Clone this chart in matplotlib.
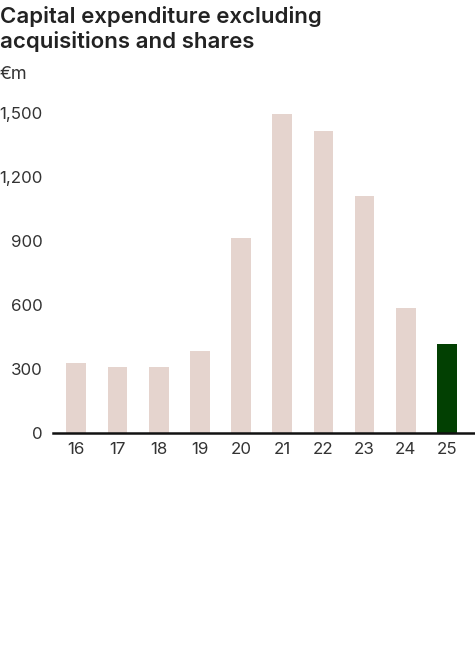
import matplotlib.pyplot as plt

plt.rcParams["font.family"] = ["Inter", "DejaVu Sans"]

years = ["16", "17", "18", "19", "20", "21", "22", "23", "24", "25"]
capex = [328, 308, 308, 383, 912, 1492, 1416, 1108, 586, 414]
y_ticks = [0, 300, 600, 900, 1200, 1500]
y_labels = ["0", "300", "600", "900", "1,200", "1,500"]
title_lines = ["Capital expenditure excluding", "acquisitions and shares"]

PINK = "#e5d4ce"
GREEN = "#024002"
TEXT = "#222222"

fig = plt.figure(figsize=(4.75, 6.49), dpi=100)
ax = fig.add_axes([0.112, 0.3333, 0.888, 0.4995])

colors = [PINK] * (len(years) - 1) + [GREEN]
x = list(range(len(years)))
ax.bar(x, capex, width=0.48, color=colors, zorder=2)

ax.set_xlim(-0.56, len(years) - 1 + 0.68)
ax.set_ylim(0, 1520)
ax.set_xticks(x)
ax.set_xticklabels(years)
ax.set_yticks(y_ticks)
ax.set_yticklabels(y_labels)
ax.tick_params(axis="both", length=0, labelsize=12.2, colors="#333333")
ax.tick_params(axis="y", pad=7.5)
ax.tick_params(axis="x", pad=7)

for side in ["top", "right", "left"]:
    ax.spines[side].set_visible(False)
ax.spines["bottom"].set_color("#111111")
ax.spines["bottom"].set_linewidth(1.8)
ax.spines["bottom"].set_zorder(3)

for i, line in enumerate(title_lines):
    fig.text(0.0, 1 - (23 + 25 * i) / 649, line, fontsize=16, fontweight="semibold",
             color=TEXT, ha="left", va="baseline")
fig.text(0.0, 1 - 79 / 649, "€m", fontsize=13, color="#333333", ha="left", va="baseline")

fig.savefig("out.png", dpi=100, facecolor="white")
